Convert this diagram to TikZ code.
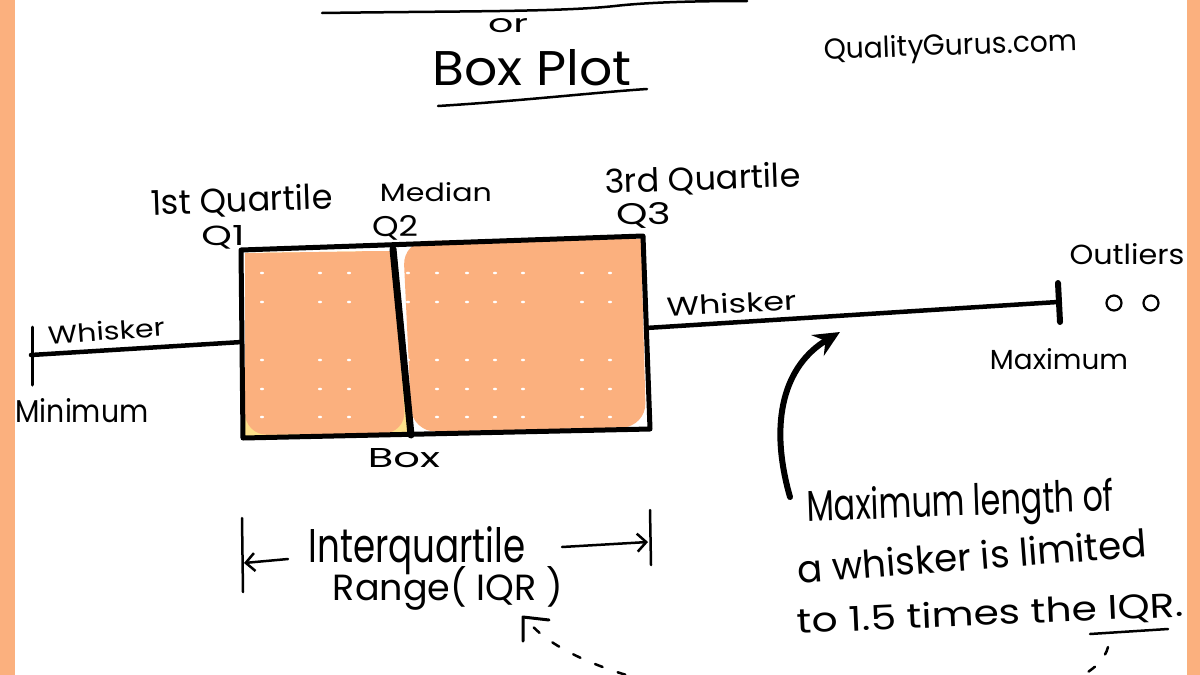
\documentclass[tikz,border=0pt]{standalone}
\usepackage{fontspec}
\setmainfont{Poppins}
\usepackage{graphicx}
\usetikzlibrary{arrows.meta}
\definecolor{peach}{HTML}{FBB07E}
\definecolor{butter}{HTML}{FCE08A}
\newcommand{\hw}[3]{\resizebox{#1pt}{#2pt}{#3}}
\newcommand{\nodepth}[1]{\raisebox{0pt}[\height][0pt]{#1}}
\begin{document}
\begin{tikzpicture}[x=1pt,y=-1pt,
  lbl/.style={inner sep=0pt, anchor=base, black},
  ink/.style={line cap=round, line join=round, draw=black},
  dotw/.style={fill=white}]
\useasboundingbox (0,0) rectangle (1200,675);
\fill[white] (0,0) rectangle (1200,675);
\fill[peach] (0,0) rectangle (15,675);
\fill[peach] (1187,0) rectangle (1200,675);

% ---- title remnants
\draw[ink, line width=2.5] (322,13) .. controls (460,11) and (560,12) .. (615,6) .. controls (650,2) and (700,1) .. (747,1);
\node[lbl] (or) at (508,32) {\hw{40}{14}{or}};
\node[lbl] (title) at (532,85) {\hw{199}{36}{Box Plot}};
\draw[ink, line width=2.5] (438,106) .. controls (520,101) and (600,92) .. (647,89);
\node[lbl, rotate=2] (site) at (951,55) {\hw{253}{22}{QualityGurus.com}};

% ---- box fill
\coordinate (b1) at (241,250);
\coordinate (b2) at (643,236);
\coordinate (b3) at (650,429);
\coordinate (b4) at (243,438);
\coordinate (m1) at (393,249);
\coordinate (m2) at (411,435);
\fill[butter] (245,253) -- (392,251) -- (408,434) -- (245,436) -- cycle;
\fill[peach, rounded corners=22pt] (245,253) -- (392,251) -- (406,433) -- (245,435) -- cycle;
\fill[peach] (245,253) rectangle (275,283);
\fill[peach] (362,251) -- (392,251) -- (395,283) -- (362,283) -- cycle;
\fill[peach, rounded corners=24pt] (403,241) -- (641,239) -- (646,427) -- (412,432) -- cycle;
\fill[peach] (611,239) -- (641,239) -- (642,270) -- (611,270) -- cycle;
\foreach \yy in {273,302,360,389,417}{
  \foreach \xx in {262,320,349,408,437,467,495,523,582,610}{
    \fill[dotw] (\xx,\yy) ellipse [x radius=2, y radius=1.3];
  }
}
\draw[ink, line width=5] (b1) -- (b2) -- (b3) -- (b4) -- cycle;
\draw[ink, line width=7] (m1) -- (m2);

% ---- whiskers
\coordinate (minA) at (32,327);
\coordinate (minB) at (32,385);
\coordinate (minC) at (31,355);
\coordinate (q1w) at (242,342);
\draw[ink, line width=3] (minA) -- (minB);
\draw[ink, line width=4.5] (minC) -- (q1w);
\coordinate (q3w) at (646,328);
\coordinate (maxC) at (1058,302);
\coordinate (maxA) at (1058,283);
\coordinate (maxB) at (1060,322);
\draw[ink, line width=4.5] (q3w) -- (maxC);
\draw[ink, line width=6] (maxA) -- (maxB);
\node[draw=black, circle, line width=2.2, minimum size=15pt, inner sep=0pt] (o1) at (1114,303) {};
\node[draw=black, circle, line width=2.2, minimum size=15pt, inner sep=0pt] (o2) at (1151,303) {};

% ---- labels
\node[lbl, rotate=2] (l1) at (242,212) {\hw{182}{26}{1st Quartile}};
\node[lbl] (lq1) at (223,245) {\hw{43}{20}{Q1}};
\node[lbl] (lmed) at (436,201) {\hw{112}{19}{Median}};
\node[lbl] (lq2) at (395,236) {\hw{46}{21}{Q2}};
\node[lbl, rotate=2] (l3) at (703,190) {\hw{196}{25}{3rd Quartile}};
\node[lbl] (lq3) at (644,224) {\hw{55}{22}{Q3}};
\node[lbl, rotate=4] (lwl) at (107,340) {\hw{117}{19}{Whisker}};
\node[lbl] (lmin) at (82,422) {\hw{133}{24}{Minimum}};
\node[lbl, rotate=3] (lwr) at (732,313) {\hw{130}{20}{Whisker}};
\node[lbl] (lout) at (1127,264) {\hw{115}{21}{Outliers}};
\node[lbl] (lmax) at (1059,369) {\hw{138}{21}{Maximum}};
\node[lbl] (lbox) at (404,467) {\hw{72}{19}{Box}};

% ---- IQR
\node[lbl] (iqr1) at (417,562) {\hw{217}{36}{Interquartile}};
\node[lbl] (iqr2) at (448,600) {\hw{230}{34}{Range( IQR )}};
\coordinate (iqL1) at (242,518);
\coordinate (iqL2) at (243,592);
\coordinate (iqR1) at (650,510);
\coordinate (iqR2) at (651,565);
\draw[ink, line width=2.5] (iqL1) -- (iqL2);
\draw[ink, line width=2.5] (iqR1) -- (iqR2);
\coordinate (aL0) at (288,559);
\coordinate (aL1) at (244,563);
\coordinate (aR0) at (562,547);
\coordinate (aR1) at (648,542);
\draw[ink, line width=2.5, -{Straight Barb[length=9pt,width=18pt]}] (aL0) -- (aL1);
\draw[ink, line width=2.5, -{Straight Barb[length=9pt,width=18pt]}] (aR0) -- (aR1);

% ---- annotation
\node[lbl, rotate=2] (n1) at (961,516) {\hw{307}{33}{\nodepth{Maximum length of}}};
\node[lbl, rotate=4.4] (n2) at (973,570) {\hw{350}{29}{a whisker is limited}};
\node[lbl, rotate=2.5] (n3) at (991,625) {\hw{387}{26}{to 1.5 times the IQR.}};
\coordinate (u1) at (1090,634);
\coordinate (u2) at (1168,629);
\draw[ink, line width=2.5] (u1) -- (u2);
\coordinate (cA) at (790,497);
\coordinate (cB) at (840,332);
\draw[ink, line width=6, -{Stealth[length=26pt,width=24pt,inset=9pt]}] (cA) .. controls (768,420) and (785,365) .. (cB);
\coordinate (dA) at (1108,647);
\coordinate (dB) at (527,620);
\draw[ink, line width=2.5, dash pattern=on 8pt off 16pt] (dA) .. controls (1085,740) and (610,725) .. (dB);
\coordinate (hA) at (523,641);
\coordinate (hT) at (523,617);
\coordinate (hB) at (549,620);
\draw[ink, line width=3] (hA) -- (hT) -- (hB);
\end{tikzpicture}
\end{document}
